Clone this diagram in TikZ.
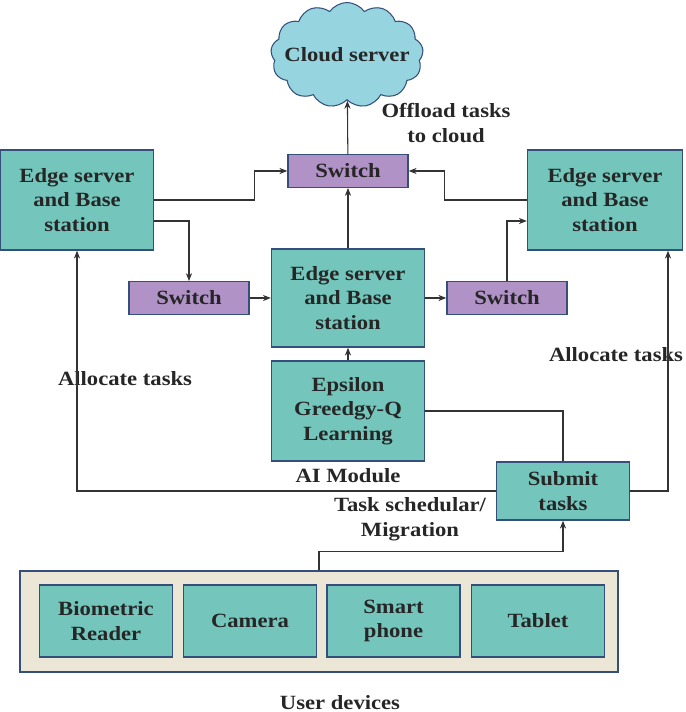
\documentclass[tikz,border=0pt]{standalone}
\usepackage{fontspec}
\setmainfont[FakeStretch=1.12]{Liberation Serif}
\usepackage{xcolor}
\usetikzlibrary{arrows.meta,shapes.symbols}

\definecolor{tealbox}{RGB}{116,198,188}
\definecolor{purplebox}{RGB}{176,146,198}
\definecolor{cloudblue}{RGB}{150,212,224}
\definecolor{beige}{RGB}{236,230,214}
\definecolor{boxline}{RGB}{52,80,122}

\tikzset{
  txt/.style={font=\fontsize{11.5}{14}\selectfont\bfseries, align=center, text=black!85},
  server/.style={txt, draw=boxline, line width=0.8pt, fill=tealbox, minimum width=3.06cm, minimum height=2cm},
  switchbox/.style={txt, draw=boxline, line width=0.8pt, fill=purplebox, minimum width=2.4cm, minimum height=0.65cm},
  device/.style={txt, draw=boxline, line width=0.8pt, fill=tealbox, minimum width=2.66cm, minimum height=1.44cm},
  link/.style={draw=black!80, line width=0.6pt},
}

\begin{document}
\begin{tikzpicture}[>={Stealth[length=4.5pt,width=3.5pt]}]
  \useasboundingbox (0,0) rectangle (13.7,14.24);
  % cloud and top switch
  \node[cloud, draw=boxline, line width=0.6pt, fill=cloudblue, cloud puffs=13, cloud puff arc=110, aspect=1.45,
        minimum width=3.05cm, minimum height=2.1cm, inner sep=0pt,
        label={[txt]center:Cloud server}] (cloud) at (6.94,13.14) {};
  \node[switchbox] (swT) at (6.96,10.82) {Switch};
  \node[txt] (offload) at (8.92,11.78) {Offload tasks\\to cloud};
  % edge servers
  \node[server] (edgeL) at (1.54,10.24) {Edge server\\and Base\\station};
  \node[server, minimum width=3.1cm] (edgeR) at (12.1,10.24) {Edge server\\and Base\\station};
  \node[server, minimum height=1.96cm] (edgeM) at (6.96,8.28) {Edge server\\and Base\\station};
  \node[switchbox] (swL) at (3.78,8.28) {Switch};
  \node[switchbox] (swR) at (10.14,8.28) {Switch};
  % AI module
  \node[server] (eps) at (6.96,6.02) {Epsilon\\Greedgy-Q\\Learning};
  \node[txt] (ai) at (6.96,4.72) {AI Module};
  \node[server, minimum width=2.66cm, minimum height=1.16cm] (submit) at (11.26,4.42) {Submit\\tasks};
  \node[txt] (sched) at (8.2,3.86) {Task schedular/\\Migration};
  \node[txt] (allocL) at (2.5,6.66) {Allocate tasks};
  \node[txt] (allocR) at (12.32,7.14) {Allocate tasks};
  % user devices
  \node[draw=boxline, line width=0.8pt, fill=beige, minimum width=11.96cm, minimum height=2.02cm] (users) at (6.38,1.81) {};
  \node[device] (bio) at (2.12,1.82) {Biometric\\Reader};
  \node[device] (cam) at (5.0,1.82) {Camera};
  \node[device] (phone) at (7.87,1.82) {Smart\\phone};
  \node[device] (tab) at (10.76,1.82) {Tablet};
  \node[txt] (userlbl) at (6.8,0.18) {User devices};

  \draw[link,->] (swT) -- (cloud);
  \draw[link,->] (edgeM) -- (swT);
  \draw[link,->] (edgeL.east) -- ++(2.0,0) |- (swT.west);
  \draw[link,->] (edgeR.west) -- ++(-1.65,0) |- (swT.east);
  \draw[link,->] ([yshift=-0.42cm]edgeL.east) -| (swL.north);
  \draw[link,->] (swR.north) |- ([yshift=-0.42cm]edgeR.west);
  \draw[link,->] (swL) -- (edgeM);
  \draw[link,->] (edgeM) -- (swR);
  \draw[link,->] (eps) -- (edgeM);
  \draw[link] (eps.east) -| (submit.north);
  \draw[link,->] (submit.west) -| (edgeL.south);
  \draw[link,->] (submit.east) -| ([xshift=1.26cm]edgeR.south);
  \draw[link,->] (users.north) -- ++(0,0.38) -| (submit.south);
\end{tikzpicture}
\end{document}
